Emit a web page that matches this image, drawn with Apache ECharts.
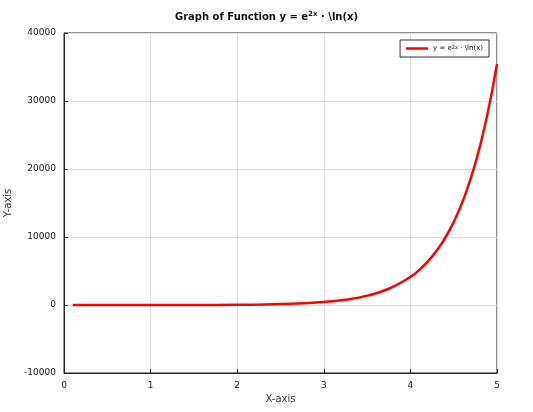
<!DOCTYPE html>
<html><head><meta charset="utf-8">
<script src="https://cdn.jsdelivr.net/npm/echarts@6/dist/echarts.min.js"></script>
<style>html,body{margin:0;padding:0;background:#fff}#c{width:533px;height:412px}</style>
</head><body><div id="c"></div>
<script>
const xs = [0.1,0.5,1,1.5,2,2.5,3,3.25,3.5,3.75,4,4.125,4.25,4.375,4.5,4.625,4.75,4.875,5];
const ys = [-3,-2,0,8,38,136,443,784,1374,2390,4131,5424,7111,9313,12188,15935,20816,27175,35450];
const yTicks = [-10000,0,10000,20000,30000,40000];
const seriesName = 'y = e^{2x} · \\ln(x)';
const chart = echarts.init(document.getElementById('c'));
const ax = {color:'#222',fontSize:9,fontFamily:'DejaVu Sans'};
chart.setOption({
  animation:false,
  title:{text:'{a|Graph of Function y = e}{s|2x}{a| · \\ln(x)}',left:'center',top:6,
    textStyle:{rich:{a:{fontSize:10,fontWeight:'bold',fontFamily:'DejaVu Sans',color:'#111'},
      s:{fontSize:7,fontWeight:'bold',fontFamily:'DejaVu Sans',color:'#111',verticalAlign:'top',padding:[0,0,6,0]}}}},
  grid:{left:64,right:36,top:33,bottom:39,containLabel:false,outerBoundsMode:'none'},
  legend:{right:44,top:40,orient:'vertical',backgroundColor:'#fff',borderColor:'#333',borderWidth:1,
    padding:[5,6],itemWidth:22,itemHeight:8,
    formatter:()=>'{a|y = e}{s|2x}{a| · \\ln(x)}',
    textStyle:{rich:{a:{fontSize:7,fontFamily:'DejaVu Sans',color:'#111'},s:{fontSize:5,fontFamily:'DejaVu Sans',verticalAlign:'top',color:'#111'}}},
    data:[{name:seriesName,icon:'path://M0,3L22,3L22,5.5L0,5.5Z'}]},
  xAxis:{type:'value',min:0,max:5,interval:1,name:'X-axis',nameLocation:'middle',nameGap:20,
    nameTextStyle:{fontSize:10,fontFamily:'DejaVu Sans',color:'#333'},
    axisLine:{onZero:false,lineStyle:{color:'#222'}},axisTick:{inside:true,length:4,lineStyle:{color:'#222'}},
    axisLabel:ax,splitLine:{lineStyle:{color:'#ddd'}}},
  yAxis:{type:'value',min:yTicks[0],max:yTicks[yTicks.length-1],interval:10000,name:'Y-axis',nameLocation:'middle',nameGap:45,
    nameTextStyle:{fontSize:10,fontFamily:'DejaVu Sans',color:'#333'},
    axisLine:{show:true,onZero:false,lineStyle:{color:'#222'}},axisTick:{show:true,inside:true,length:4,lineStyle:{color:'#222'}},
    axisLabel:Object.assign({formatter:v=>String(v)},ax),splitLine:{lineStyle:{color:'#ddd'}}},
  graphic:[{type:'rect',shape:{x:64,y:33,width:433,height:340},style:{fill:'none',stroke:'#222',lineWidth:1},silent:true}],
  series:[{name:seriesName,type:'line',data:xs.map((x,i)=>[x,ys[i]]),smooth:true,showSymbol:false,
    lineStyle:{color:'#ff0000',width:2.5},itemStyle:{color:'#ff0000'}}]
});
</script></body></html>
